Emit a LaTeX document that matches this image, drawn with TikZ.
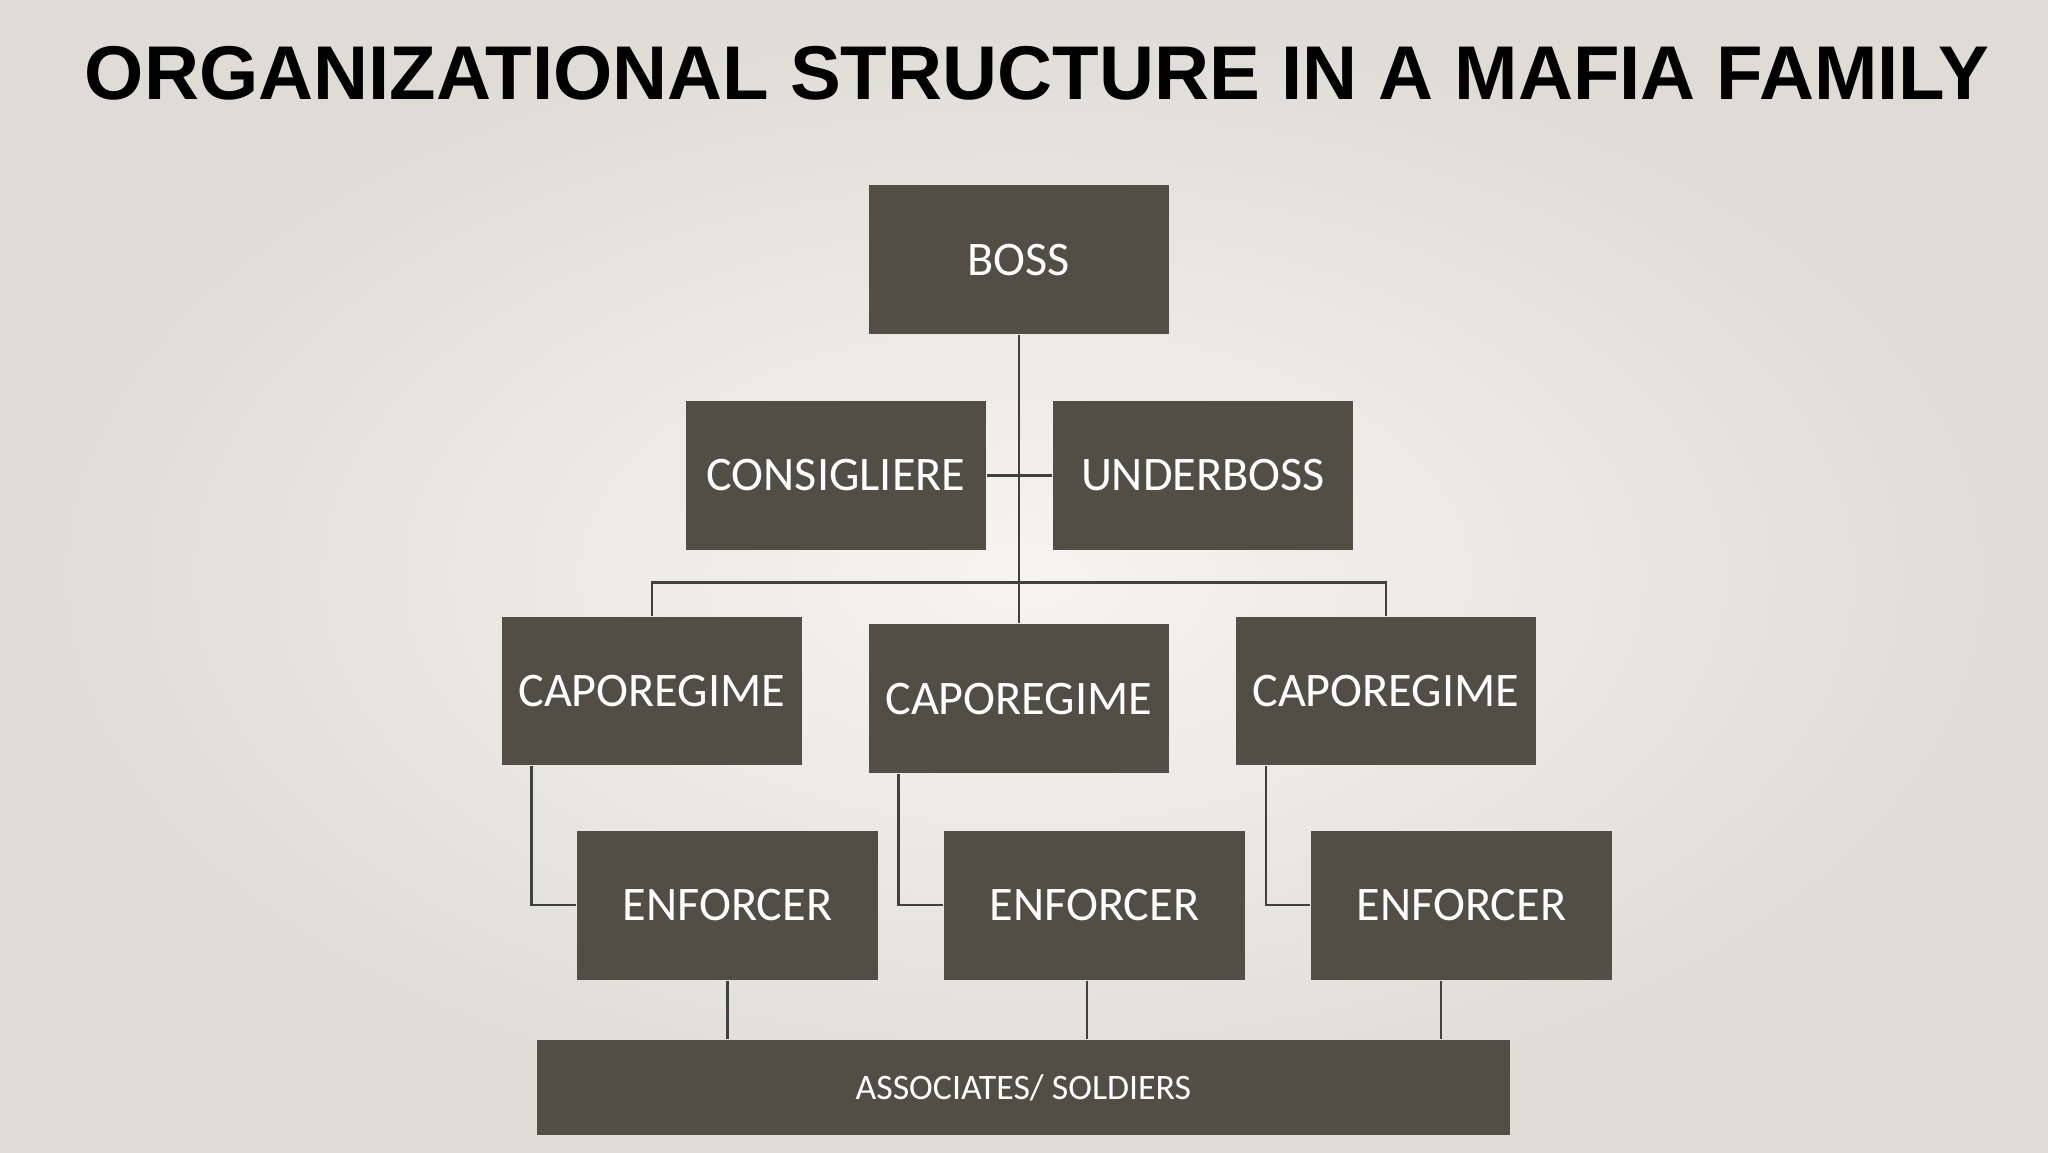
\documentclass[tikz,border=0pt]{standalone}
\usepackage{fontspec}
\setmainfont{Carlito}
\newfontfamily\titlefont{Liberation Sans}
\usetikzlibrary{positioning}
\definecolor{boxfill}{HTML}{524E45}
\definecolor{bgin}{HTML}{F6F4F1}
\definecolor{bgout}{HTML}{DEDCD5}
\tikzset{
  rank/.style={draw=none,fill=boxfill,text=white,minimum width=2.3cm,minimum height=1.14cm,
    inner sep=0pt,font=\fontsize{10.5}{12}\selectfont},
  link/.style={draw=black!75,line width=.5pt}
}
\begin{document}
\begin{tikzpicture}[x=1cm,y=-1cm]
  % background
  \shade[inner color=bgin,outer color=bgout] (0,0) rectangle (15.68,8.82);
  \useasboundingbox (0,0) rectangle (15.68,8.82);
  \node (title) at (7.94,.56) {\resizebox{14.58cm}{!}{\titlefont\bfseries ORGANIZATIONAL STRUCTURE IN A MAFIA FAMILY}};
  % ranks
  \node[rank] (boss) at (7.80,1.99) {BOSS};
  \node[rank] (consig) at (6.40,3.64) {CONSIGLIERE};
  \node[rank] (under) at (9.21,3.64) {UNDERBOSS};
  \node[rank] (capoA) at (4.99,5.29) {CAPOREGIME};
  \node[rank] (capoB) at (7.80,5.35) {CAPOREGIME};
  \node[rank] (capoC) at (10.61,5.29) {CAPOREGIME};
  \node[rank] (enfA) at (5.57,6.93) {ENFORCER};
  \node[rank] (enfB) at (8.38,6.93) {ENFORCER};
  \node[rank] (enfC) at (11.19,6.93) {ENFORCER};
  \node[rank,minimum width=7.45cm,minimum height=.73cm,font=\fontsize{7.8}{9}\selectfont]
    (assoc) at (7.835,8.325) {ASSOCIATES/ SOLDIERS};
  % connectors
  \coordinate (bus) at (7.80,4.46);
  \draw[link] (boss.south) -- (capoB.north);
  \draw[link] (consig.east) -- (under.west);
  \draw[link] (capoA.north) |- (bus) -| (capoC.north);
  \foreach \c/\e/\x in {capoA/enfA/4.07, capoB/enfB/6.88, capoC/enfC/9.69}{
    \draw[link] (\x,0 |- \c.south) |- (\e.west);
  }
  \foreach \e/\x in {enfA/5.57, enfB/8.32, enfC/11.03}{
    \draw[link] (\x,0 |- \e.south) -- (\x,0 |- assoc.north);
  }
\end{tikzpicture}
\end{document}
